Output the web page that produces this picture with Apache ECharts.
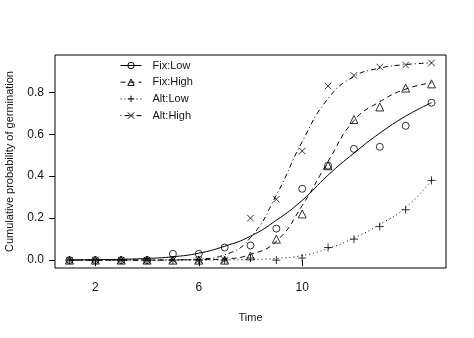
<!DOCTYPE html>
<html>
<head>
<meta charset="utf-8">
<script src="https://cdn.jsdelivr.net/npm/echarts@6/dist/echarts.min.js"></script>
<style>html,body{margin:0;padding:0;background:#fff}#c{width:474px;height:338px}</style>
</head>
<body>
<div id="c"></div>
<script>
// ---- data ----
var times = [1,2,3,4,5,6,7,8,9,10,11,12,13,14,15];
var seriesNames = ['Fix:Low','Fix:High','Alt:Low','Alt:High'];
// observed cumulative germination
var fixLowObs  = [0,0,0,0,0.03,0.03,0.06,0.07,0.15,0.34,0.45,0.53,0.54,0.64,0.75];
var fixHighObs = [0,0,0,0,0,0,0,0.02,0.10,0.22,0.45,0.67,0.73,0.82,0.84];
var altLowObs  = [0,0,0,0,0,0,0,0.01,0,0.01,0.06,0.10,0.16,0.24,0.38];
var altHighObs = [0,0,0,0,0,0,0,0.20,0.29,0.52,0.83,0.88,0.92,0.93,0.94];
// fitted curves
var fixLowFit  = [0.001,0.002,0.004,0.008,0.016,0.033,0.066,0.114,0.19,0.285,0.405,0.51,0.605,0.686,0.75];
var fixHighFit = [0,0,0,0,0.001,0.002,0.006,0.027,0.09,0.26,0.47,0.665,0.755,0.815,0.845];
var altLowFit  = [0,0,0,0,0,0,0.001,0.003,0.008,0.022,0.055,0.105,0.17,0.25,0.38];
var altHighFit = [0,0,0,0,0.001,0.005,0.025,0.107,0.31,0.565,0.77,0.875,0.915,0.932,0.94];
var xTicks = [2,6,10];
var yTicks = [0,0.2,0.4,0.6,0.8];

function pairs(xs, ys){ return xs.map(function(x,i){ return [x, ys[i]]; }); }

var FONT = 'Liberation Sans, Arial, sans-serif';
var plusPath = 'path://M5,0L5,10M0,5L10,5';
var crossPath = 'path://M0,0L10,10M10,0L0,10';
var styles = [
  {symbol:'circle', size:7, dash:'solid'},
  {symbol:'triangle', size:8, dash:[5,4]},
  {symbol:plusPath, size:8, dash:[1,3]},
  {symbol:crossPath, size:6.5, dash:[1,3,5,3]}
];
var obs = [fixLowObs, fixHighObs, altLowObs, altHighObs];
var fits = [fixLowFit, fixHighFit, altLowFit, altHighFit];

var series = [];
seriesNames.forEach(function(name, i){
  var st = styles[i];
  var itemStyle = {color:'rgba(0,0,0,0)', borderColor:'#000', borderWidth:1};
  series.push({
    name: name, type:'line', data: pairs(times, fits[i]),
    smooth: 0.5,
    symbol: st.symbol, symbolSize: st.size, showSymbol: false,
    itemStyle: itemStyle,
    lineStyle: {color:'#000', width:1, type: st.dash},
    silent: true, z: 2
  });
  series.push({
    name: name, type:'scatter', data: pairs(times, obs[i]),
    symbol: st.symbol, symbolSize: st.size,
    itemStyle: itemStyle, silent: true, z: 3
  });
});

var chart = echarts.init(document.getElementById('c'));
chart.setOption({
  animation: false,
  backgroundColor: '#fff',
  grid: {left:55, right:28, top:55, bottom:70, show:true, borderColor:'#000', borderWidth:1,
         backgroundColor:'transparent', containLabel:false, outerBoundsMode:'none'},
  legend: {
    data: seriesNames, orient:'vertical', left:120, top:60, padding:0,
    itemWidth:21, itemHeight:8, itemGap:5.7,
    lineStyle:{width:1},
    itemStyle:{borderWidth:1},
    textStyle:{fontFamily:FONT, fontSize:11, color:'#111', padding:[0,0,0,6]},
    backgroundColor:'transparent', borderWidth:0
  },
  xAxis: {
    type:'value', min:0.44, max:15.56,
    name:'Time', nameLocation:'middle', nameGap:44,
    nameTextStyle:{fontFamily:FONT, fontSize:11, color:'#111'},
    axisLine:{show:false},
    axisTick:{show:true, length:6, lineStyle:{color:'#000'}, customValues: xTicks},
    axisLabel:{fontFamily:FONT, fontSize:12, color:'#111', margin:14, customValues: xTicks},
    splitLine:{show:false}
  },
  yAxis: {
    type:'value', min:-0.0376, max:0.9776,
    name:'Cumulative probability of germination', nameLocation:'middle', nameGap:40,
    nameTextStyle:{fontFamily:FONT, fontSize:11, color:'#111'},
    axisLine:{show:false},
    axisTick:{show:true, length:6, lineStyle:{color:'#000'}, customValues: yTicks},
    axisLabel:{fontFamily:FONT, fontSize:12, color:'#111', margin:11, customValues: yTicks,
      formatter:function(v){ return v.toFixed(1); }},
    splitLine:{show:false}
  },
  series: series
});
</script>
</body>
</html>
